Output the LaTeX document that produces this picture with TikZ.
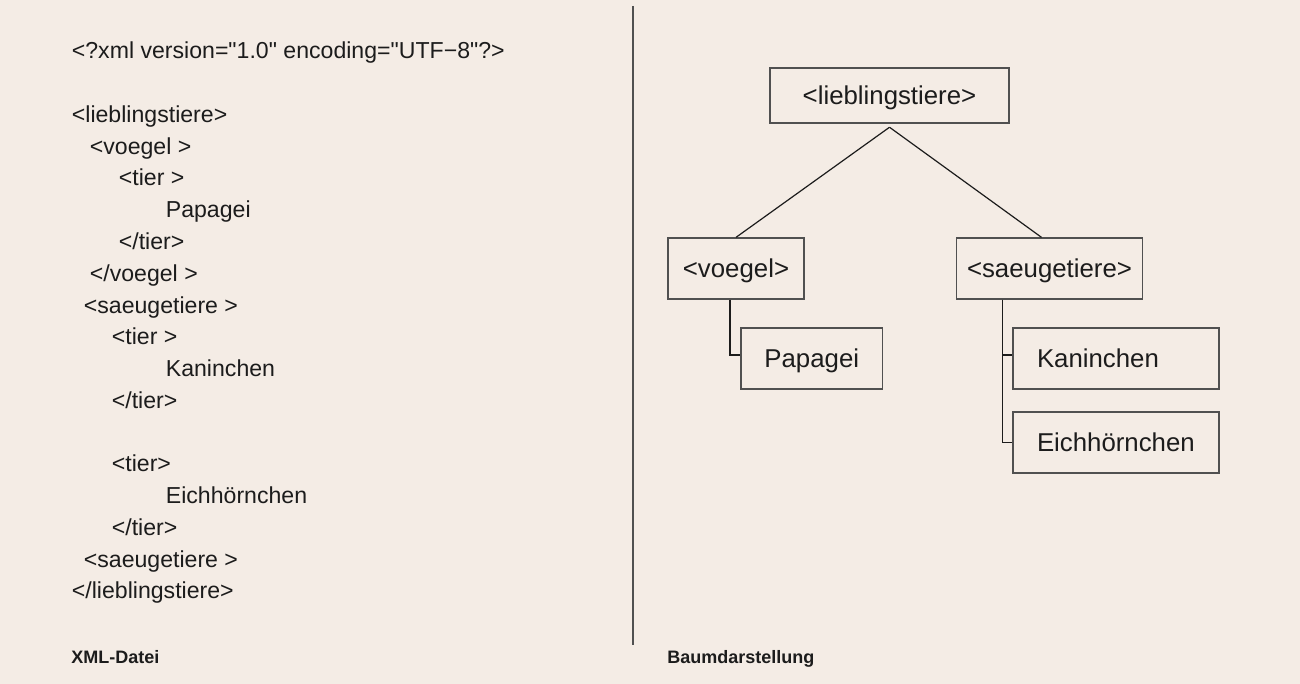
\documentclass[tikz,border=0pt]{standalone}
\usepackage{fontspec}
\setmainfont{Liberation Sans}[Ligatures=TeXOff]
\usepackage{xcolor}
\usepackage{tikz}
\usetikzlibrary{positioning}
\definecolor{paper}{HTML}{F4ECE5}
\definecolor{ink}{HTML}{1C1C1C}
\definecolor{rahmen}{HTML}{505050}

\begin{document}
\begin{tikzpicture}[x=0.5pt, y=-0.5pt,
            code/.style={anchor=base west, inner sep=0pt, text=ink, font=\fontsize{11.55}{14}\selectfont},
            caption/.style={anchor=base west, inner sep=0pt, text=ink, font=\fontsize{9}{11}\selectfont\bfseries},
            box/.style={draw=rahmen, line width=0.65pt, rectangle, text=ink, font=\fontsize{12.9}{15}\selectfont, minimum height=30.5pt, text height=9.2pt, text depth=0pt, inner sep=0pt},
            leaf/.style={box, align=left, text width=79pt, inner xsep=12pt},
            link/.style={draw=ink, line width=0.6pt}]
            \fill[paper] (0,0) rectangle (1300,684);
            \draw[rahmen, line width=0.65pt] (633,6) -- (633,645);

            \node[code] (xmldecl) at (71.5,59) {<?xml version="1.0" encoding="UTF−8"?>};
            \node[code] (openroot) at (71.5,122.5) {<lieblingstiere>};
            \node[code] (openvoegel) at (89.5,154.3) {<voegel >};
            \node[code] (opentierA) at (118.5,186) {<tier >};
            \node[code] (papageitext) at (165.5,217.8) {Papagei};
            \node[code] (closetierA) at (118.5,249.6) {</tier>};
            \node[code] (closevoegel) at (89.5,281.3) {</voegel >};
            \node[code] (opensaeuger) at (83.5,313.1) {<saeugetiere >};
            \node[code] (opentierB) at (111.5,344.8) {<tier >};
            \node[code] (kanintext) at (165.5,376.6) {Kaninchen};
            \node[code] (closetierB) at (111.5,408.4) {</tier>};
            \node[code] (opentierC) at (111.5,471.9) {<tier>};
            \node[code] (eichtext) at (165.5,503.7) {Eichhörnchen};
            \node[code] (closetierC) at (111.5,535.4) {</tier>};
            \node[code] (closesaeuger) at (83.5,567.2) {<saeugetiere >};
            \node[code] (closeroot) at (71.5,598.9) {</lieblingstiere>};

            \node[caption] (xmlcap) at (71,663) {XML-Datei};
            \node[caption] (baumcap) at (667,663) {Baumdarstellung};

            \node[box, minimum width=119.5pt, minimum height=27.5pt] (wurzel) at (889.5,95.5) {<lieblingstiere>};
            \node[box, minimum width=68pt] (voegel) at (736,268.5) {<voegel>};
            \node[box, minimum width=93pt] (saeuger) at (1049.5,268.5) {<saeugetiere>};
            \node[box, minimum width=70.75pt] (papagei) at (811.75,358.6) {Papagei};
            \node[leaf] (kaninchen) at (1116,358.6) {Kaninchen};
            \node[leaf] (eichhoernchen) at (1116,442.5) {Eichhörnchen};

            \draw[link] ([yshift=-1.8pt]wurzel.south) -- (voegel.north);
            \draw[link] ([yshift=-1.8pt]wurzel.south) -- ([xshift=-4pt]saeuger.north);
            \draw[link] ([xshift=-3pt]voegel.south) |- ([yshift=1.8pt]papagei.west);
            \draw[link] ([xshift=-23.4pt]saeuger.south) |- ([yshift=1.8pt]kaninchen.west);
            \draw[link] ([xshift=-23.4pt]saeuger.south) |- (eichhoernchen.west);
        \end{tikzpicture}
\end{document}
